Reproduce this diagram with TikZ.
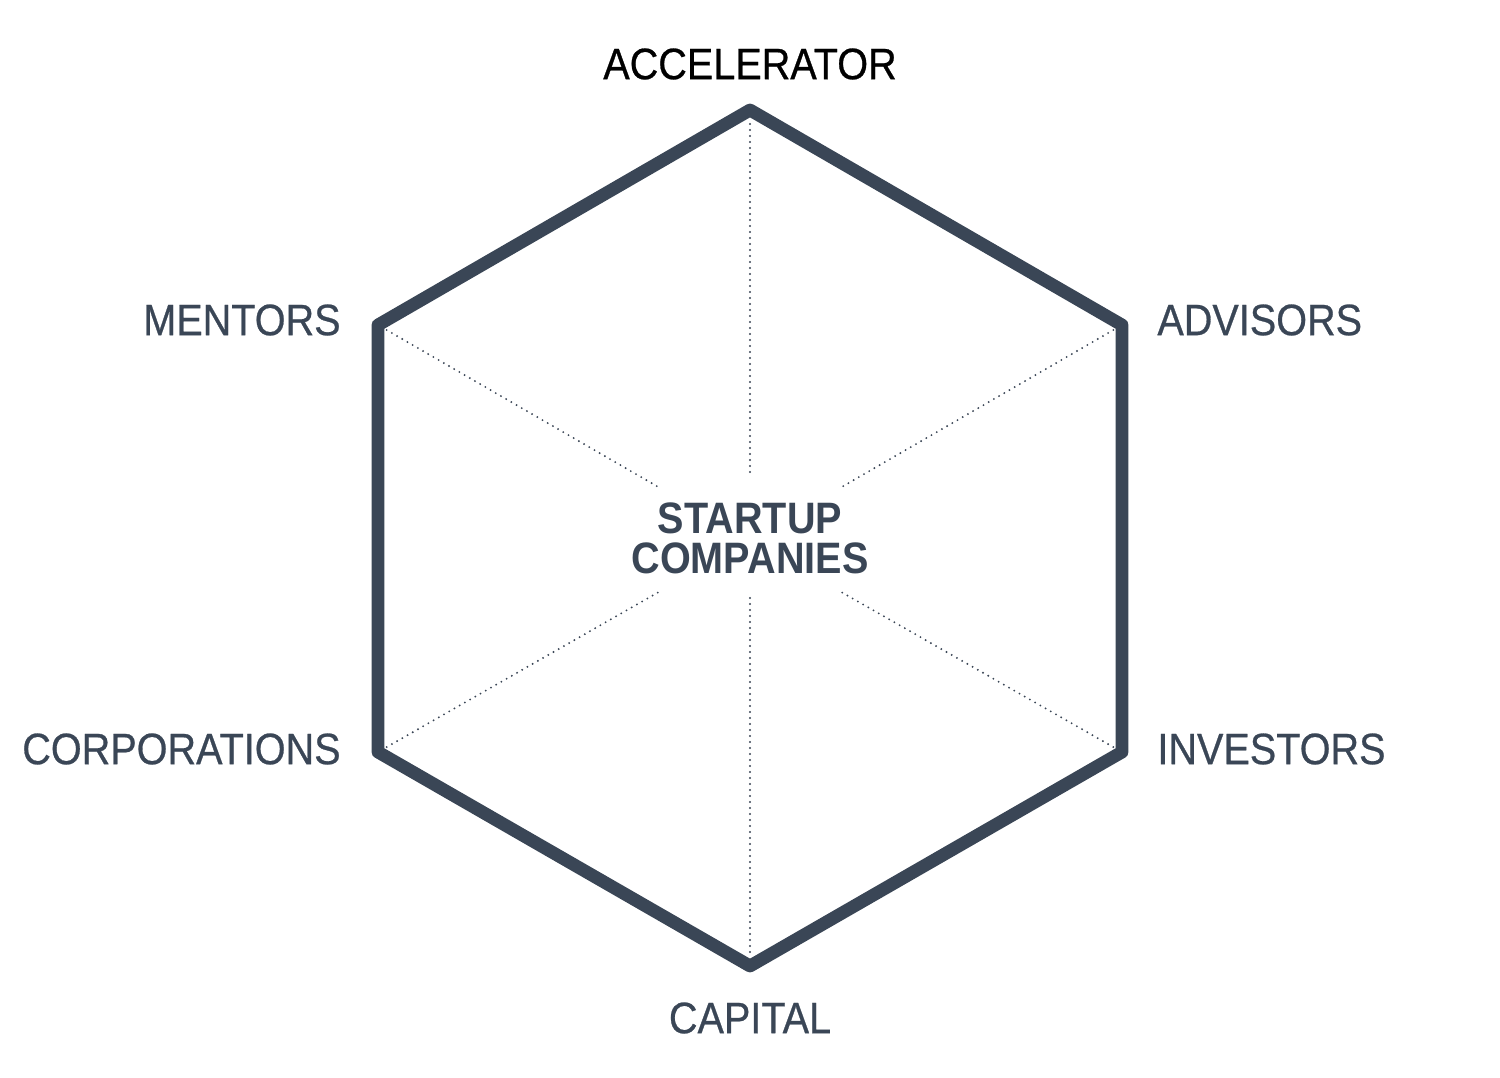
\documentclass[tikz,border=0pt]{standalone}
\usepackage{fontspec}
\setmainfont{Liberation Sans}[FakeStretch=0.9,UprightFeatures={FakeBold=0.6}]
\usetikzlibrary{calc}
\definecolor{slate}{HTML}{3A4656}
\begin{document}
\begin{tikzpicture}[x=0.5pt,y=-0.5pt,
  hexline/.style={draw=slate,line width=6.4pt,line join=round,line cap=round},
  spoke/.style={draw=slate,line width=1.05pt,line cap=round,dash pattern=on 0pt off 3pt},
  lbl/.style={text=slate,font=\fontsize{22}{24}\selectfont,inner sep=0pt},
  toplbl/.style={text=black,font=\fontsize{22}{24}\selectfont,inner sep=0pt},
  centerlbl/.style={text=slate,font=\fontsize{22}{20}\selectfont\bfseries,align=center,inner sep=0pt}]
\useasboundingbox (0,0) rectangle (1500,1077);
\coordinate (vT) at (750,110);
\coordinate (vUR) at (1122,325);
\coordinate (vLR) at (1122,752);
\coordinate (vB) at (750,966);
\coordinate (vLL) at (378,752);
\coordinate (vUL) at (378,325);
\coordinate (c) at (750,540);
\draw[hexline] (vT) -- (vUR) -- (vLR) -- (vB) -- (vLL) -- (vUL) -- cycle;
\coordinate (eT) at ($(c)!0.145!(vT)$);
\coordinate (eB) at ($(c)!0.13!(vB)$);
\coordinate (eUR) at ($(c)!0.24!(vUR)$);
\coordinate (eLR) at ($(c)!0.24!(vLR)$);
\coordinate (eLL) at ($(c)!0.24!(vLL)$);
\coordinate (eUL) at ($(c)!0.24!(vUL)$);
\draw[spoke] ($(vT)!7pt!(c)$) -- (eT);
\draw[spoke] ($(vB)!7pt!(c)$) -- (eB);
\draw[spoke] ($(vUR)!5pt!(c)$) -- (eUR);
\draw[spoke] ($(vLR)!5pt!(c)$) -- (eLR);
\draw[spoke] ($(vLL)!5pt!(c)$) -- (eLL);
\draw[spoke] ($(vUL)!5pt!(c)$) -- (eUL);
\node[toplbl] (acc) at (750,64) {ACCELERATOR};
\node[lbl,anchor=east] (men) at (341,320) {MENTORS};
\node[lbl,anchor=west] (adv) at (1157,320) {ADVISORS};
\node[lbl,anchor=east] (cor) at (341,749) {CORPORATIONS};
\node[lbl,anchor=west] (inv) at (1157,749) {INVESTORS};
\node[lbl] (cap) at (750,1018) {CAPITAL};
\node[centerlbl] (start) at (750,538) {STARTUP\\COMPANIES};
\end{tikzpicture}
\end{document}
